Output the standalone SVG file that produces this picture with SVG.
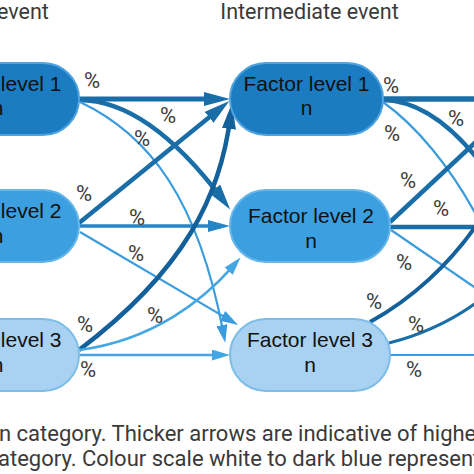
<svg xmlns="http://www.w3.org/2000/svg" width="474" height="474" viewBox="0 0 474 474">
<style>
.node rect{stroke-width:2}
.lbl{font-family:"Liberation Sans",Arial,sans-serif;font-size:21px;fill:#111;text-anchor:middle}
.lbl.e{text-anchor:end}
.pct{font-family:Roboto,"Liberation Sans",sans-serif;font-size:22px;fill:#3c3c3c;text-anchor:middle}
.cap{font-family:Roboto,"Liberation Sans",sans-serif;font-size:21.5px;fill:#3a3a3a}
.cap2{font-family:Roboto,"Liberation Sans",sans-serif;font-size:22px;fill:#3a3a3a}
.c path{fill:none}
.dk{stroke:#1a6ea8}
.xk{stroke:#13609a}
.md{stroke:#2585c5}
.lt{stroke:#3a9cdc}
.ll{stroke:#45a6e4}
</style>
<defs>
<marker id="aD" markerUnits="userSpaceOnUse" markerWidth="26" markerHeight="14" viewBox="0 0 26 14" refX="14" refY="7" orient="auto"><path d="M0,0 L26,7 L0,14 z" fill="#1a6ea8"/></marker>
<marker id="aX" markerUnits="userSpaceOnUse" markerWidth="26" markerHeight="14" viewBox="0 0 26 14" refX="14" refY="7" orient="auto"><path d="M0,0 L26,7 L0,14 z" fill="#13609a"/></marker>
<marker id="aM" markerUnits="userSpaceOnUse" markerWidth="22" markerHeight="12" viewBox="0 0 22 12" refX="10" refY="6" orient="auto"><path d="M0,0 L22,6 L0,12 z" fill="#2585c5"/></marker>
<marker id="aL" markerUnits="userSpaceOnUse" markerWidth="18" markerHeight="11" viewBox="0 0 18 11" refX="6" refY="5.5" orient="auto"><path d="M0,0 L18,5.5 L0,11 z" fill="#3a9cdc"/></marker>
<marker id="aLL" markerUnits="userSpaceOnUse" markerWidth="18" markerHeight="11" viewBox="0 0 18 11" refX="6" refY="5.5" orient="auto"><path d="M0,0 L18,5.5 L0,11 z" fill="#45a6e4"/></marker>
</defs>
<rect x="0" y="0" width="474" height="474" fill="#fff"/>

<text class="cap" x="-3" y="19">event</text>
<text class="cap" x="309.5" y="19" text-anchor="middle">Intermediate event</text>

<g id="connectors" class="c">
  <path class="dk" stroke-width="5" d="M79,99 H218" marker-end="url(#aD)"/>
  <path class="dk" stroke-width="4.5" d="M79,100 Q148,100 223,200" marker-end="url(#aD)"/>
  <path class="lt" stroke-width="2.2" d="M80,102 C150,135 198,200 223,331" marker-end="url(#aL)"/>
  <path class="dk" stroke-width="4.5" d="M79,223 L220,108.6" marker-end="url(#aD)"/>
  <path class="md" stroke-width="3.5" d="M79,226 H218" marker-end="url(#aM)"/>
  <path class="lt" stroke-width="2.2" d="M80,232 L227.7,318.9" marker-end="url(#aL)"/>
  <path class="xk" stroke-width="4.5" d="M79,350 C185,270 221,195 230.6,115" marker-end="url(#aX)"/>
  <path class="ll" stroke-width="2.6" d="M79,350 C155,340 205,298 232.6,266.6" marker-end="url(#aLL)"/>
  <path class="ll" stroke-width="2.6" d="M79,355 H218" marker-end="url(#aLL)"/>
  <path class="dk" stroke-width="5.5" d="M382,99 H480"/>
  <path class="dk" stroke-width="4.5" d="M382,100 Q436,100 490,175"/>
  <path class="lt" stroke-width="2.2" d="M383,102 C415,125 450,165 480,222"/>
  <path class="dk" stroke-width="4.5" d="M390,222 L480,138"/>
  <path class="dk" stroke-width="4.5" d="M390,227 H480"/>
  <path class="lt" stroke-width="2.2" d="M391,230 L480,291"/>
  <path class="xk" stroke-width="4" d="M370,322 C410,300 450,265 480,220"/>
  <path class="dk" stroke-width="3" d="M389,343 Q440,330 480,300"/>
  <path class="lt" stroke-width="2.2" d="M390,355 H480"/>
</g>

<g id="pcts">
  <text class="pct" x="92" y="88">%</text>
  <text class="pct" x="168" y="123">%</text>
  <text class="pct" x="142" y="146">%</text>
  <text class="pct" x="84" y="201">%</text>
  <text class="pct" x="137" y="225">%</text>
  <text class="pct" x="136" y="261">%</text>
  <text class="pct" x="155" y="323">%</text>
  <text class="pct" x="85" y="332">%</text>
  <text class="pct" x="88" y="377">%</text>
  <text class="pct" x="391" y="93">%</text>
  <text class="pct" x="456" y="126">%</text>
  <text class="pct" x="392" y="141">%</text>
  <text class="pct" x="408" y="188">%</text>
  <text class="pct" x="441" y="216">%</text>
  <text class="pct" x="404" y="270">%</text>
  <text class="pct" x="374" y="309">%</text>
  <text class="pct" x="416" y="332">%</text>
  <text class="pct" x="414" y="377">%</text>
</g>

<g id="initial-1" class="node">
  <rect x="-80" y="63" width="159" height="72" rx="36" fill="#1c7cc2" stroke="#4fa3de"/>
  <text class="lbl e" x="61.5" y="91">level 1</text>
  <text class="lbl" x="-2.5" y="115">n</text>
</g>
<g id="initial-2" class="node">
  <rect x="-80" y="190" width="159" height="72" rx="36" fill="#3b9fe0" stroke="#66b6ea"/>
  <text class="lbl e" x="61.5" y="218">level 2</text>
  <text class="lbl" x="-2.5" y="243">n</text>
</g>
<g id="initial-3" class="node">
  <rect x="-80" y="319" width="159" height="72" rx="36" fill="#a9d2f2" stroke="#7dbde9"/>
  <text class="lbl e" x="61.5" y="347">level 3</text>
  <text class="lbl" x="-2.5" y="372">n</text>
</g>
<g id="intermediate-1" class="node">
  <rect x="230" y="63" width="153" height="72" rx="36" fill="#1c7cc2" stroke="#4fa3de"/>
  <text class="lbl" x="306.5" y="91">Factor level 1</text>
  <text class="lbl" x="306.5" y="115">n</text>
</g>
<g id="intermediate-2" class="node">
  <rect x="230" y="190" width="160" height="72" rx="36" fill="#3b9fe0" stroke="#66b6ea"/>
  <text class="lbl" x="311" y="223">Factor level 2</text>
  <text class="lbl" x="311" y="248">n</text>
</g>
<g id="intermediate-3" class="node">
  <rect x="230" y="319" width="160" height="72" rx="36" fill="#a9d2f2" stroke="#7dbde9"/>
  <text class="lbl" x="310" y="347">Factor level 3</text>
  <text class="lbl" x="310" y="372">n</text>
</g>

<text class="cap2" x="-1" y="441">n category. Thicker arrows are indicative of highe</text>
<text class="cap2" x="-2" y="466">ategory. Colour scale white to dark blue represent</text>
</svg>
